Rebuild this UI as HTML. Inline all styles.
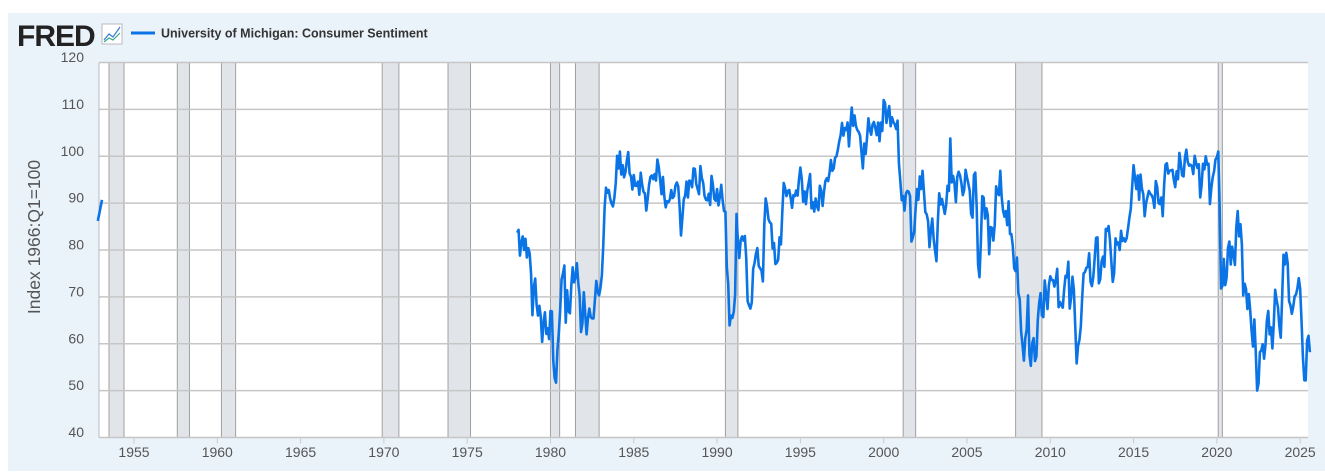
<!DOCTYPE html>
<html><head><meta charset="utf-8"><style>
body{margin:0;background:#fff;width:1325px;height:471px;overflow:hidden;font-family:"Liberation Sans",sans-serif}
</style></head><body>
<svg width="1325" height="471">
<rect x="8" y="13" width="1317" height="458" fill="#eaf2fa"/>
<text x="17" y="46" font-size="30" font-weight="bold" fill="#222" letter-spacing="-1">FRED</text>
<g><rect x="102" y="24" width="20" height="20" fill="#fff" stroke="#bbb"/><polyline points="104,40 109,34 113,37 120,27" fill="none" stroke="#3a7bd5" stroke-width="1.2"/><polyline points="104,42 109,38 113,40 120,33" fill="none" stroke="#3aa88a" stroke-width="1.2"/></g>
<line x1="131" y1="33" x2="155" y2="33" stroke="#0a74e6" stroke-width="3"/>
<text x="161" y="37.5" font-size="12.5" font-weight="bold" fill="#333">University of Michigan: Consumer Sentiment</text>
<rect x="99" y="62" width="1209" height="375" fill="#fff"/>
<g id="rec"></g><g id="grid"></g><g id="xax"></g>
<text transform="translate(40,237) rotate(-90)" text-anchor="middle" font-size="17.5" fill="#555">Index 1966:Q1=100</text>
<g id="series"></g>
</svg>
<script>
const yTicks=[40,50,60,70,80,90,100,110,120];
const xTicks=[1955,1960,1965,1970,1975,1980,1985,1990,1995,2000,2005,2010,2015,2020,2025];
const recessionStarts=[1953.5,1957.6,1960.25,1969.9,1973.85,1980.0,1981.5,1990.5,2001.17,2007.92,2020.08];
const recessionEnds=[1954.4,1958.33,1961.1,1970.9,1975.2,1980.55,1982.92,1991.25,2001.92,2009.5,2020.33];
const earlyDates=[1952.83,1953.08];
const earlyValues=[86.2,90.7];
const startYear=1978;
const monthly=[
83.7,84.3,78.8,81.6,82.9,80.0,82.4,78.4,80.4,79.3,75.0,66.1,
72.1,73.9,68.4,66.0,68.1,65.8,60.4,64.5,66.7,62.1,63.3,61.0,
67.0,66.9,56.5,52.7,51.7,58.7,62.3,67.3,73.7,75.0,76.7,64.5,
71.4,66.9,66.5,72.4,76.3,73.1,74.1,77.2,73.1,70.3,62.5,64.3,
71.0,66.5,62.0,65.5,67.5,65.7,65.4,65.4,69.3,73.4,71.1,70.3,
71.9,74.6,80.8,89.1,93.3,92.2,92.8,90.9,89.9,89.3,91.1,94.2,
100.1,97.4,101.0,96.1,98.1,95.5,96.6,99.1,100.9,96.3,95.7,92.9,
96.0,93.7,93.7,94.6,91.8,96.5,94.0,92.4,92.1,88.4,90.9,93.9,
95.6,95.9,95.1,96.2,94.8,99.3,97.7,94.9,91.9,95.6,91.4,89.1,
90.4,90.2,90.8,92.8,91.1,91.5,93.7,94.4,93.6,89.3,83.1,86.8,
90.8,91.6,94.6,91.2,94.8,94.7,93.4,97.4,97.3,94.1,93.0,91.9,
97.9,95.4,94.3,91.5,90.7,90.6,92.0,89.6,95.8,93.9,90.9,90.5,
93.0,89.5,91.3,93.9,90.6,88.3,88.2,76.4,72.8,63.9,66.0,65.5,
66.8,70.4,87.7,81.8,78.3,82.1,82.9,82.0,83.0,78.3,69.1,68.2,
67.5,68.8,76.0,77.2,79.2,80.4,76.6,76.1,75.6,73.3,85.3,91.0,
89.3,86.6,85.9,85.6,80.3,81.5,77.0,77.3,77.9,82.7,81.2,88.2,
94.3,93.2,91.5,92.6,92.8,91.2,89.0,91.7,91.5,92.7,91.6,95.1,
97.6,95.1,90.3,92.5,89.8,92.7,94.4,96.2,88.9,90.2,88.2,91.0,
89.3,88.5,93.7,92.7,89.4,92.4,94.7,95.3,94.7,96.5,99.2,96.9,
97.4,99.7,100.0,101.4,103.2,104.5,107.1,104.4,106.0,105.6,107.2,102.1,
106.6,110.4,106.5,108.7,106.5,105.6,105.2,104.4,100.9,97.4,102.7,100.5,
103.9,108.1,105.7,104.6,106.8,107.3,106.0,104.5,107.2,103.2,107.2,105.4,
112.0,111.3,107.1,109.2,110.7,106.4,108.3,107.3,106.8,105.8,107.6,98.4,
94.7,90.6,91.5,88.4,92.0,92.6,92.4,91.5,81.8,82.7,83.9,88.8,
93.0,90.7,95.7,93.0,96.9,92.4,88.1,87.6,86.1,80.6,84.2,86.7,
82.4,79.9,77.6,86.0,92.1,89.7,90.9,89.3,87.7,89.6,93.7,92.6,
103.8,94.4,95.8,94.2,90.2,95.6,96.7,95.9,94.2,91.7,92.8,97.1,
95.5,94.1,92.6,87.7,86.9,96.0,96.5,89.1,76.9,74.2,81.6,91.5,
91.2,86.7,88.9,87.4,79.1,84.9,84.7,82.0,85.4,93.6,92.1,91.7,
96.9,91.3,88.4,87.1,88.3,85.3,90.4,83.4,83.4,80.9,76.1,75.5,
78.4,70.8,69.5,62.6,59.8,56.4,61.2,63.0,70.3,57.6,55.3,60.1,
61.2,56.3,57.3,65.1,68.7,70.8,66.0,65.7,73.5,70.6,67.4,72.5,
74.4,73.6,73.6,72.2,73.6,76.0,67.8,68.9,68.2,67.7,71.6,74.5,
74.2,77.5,67.5,69.8,74.3,71.5,63.7,55.8,59.5,60.8,63.7,69.9,
75.0,75.3,76.2,76.4,79.3,73.2,72.3,74.3,78.3,82.6,82.7,72.9,
73.8,77.6,78.6,76.4,84.5,84.1,85.1,82.1,77.5,73.2,75.1,82.5,
81.2,81.6,80.0,84.1,81.9,82.5,81.8,82.5,84.6,86.9,88.8,93.6,
98.1,95.4,93.0,95.9,90.7,96.1,93.1,91.9,87.2,90.0,91.3,92.6,
92.0,91.7,91.0,89.0,94.7,93.5,90.0,89.8,91.2,87.2,93.8,98.2,
98.5,96.3,96.9,97.0,97.1,95.0,93.4,96.8,95.1,100.7,98.5,95.9,
95.7,99.7,101.4,98.8,98.0,98.2,97.9,96.2,100.1,98.6,97.5,98.3,
91.2,93.8,98.4,97.2,100.0,98.2,98.4,89.8,93.2,95.5,96.8,99.3,
99.8,101.0,89.1,71.8,72.3,78.1,72.5,74.1,80.4,81.8,76.9,80.7,
79.0,76.8,84.9,88.3,82.9,85.5,81.2,70.3,72.8,71.7,67.4,70.6,
67.2,62.8,59.4,65.2,58.4,50.0,51.5,58.2,58.6,59.9,56.8,59.7,
64.9,67.0,62.0,63.5,59.0,64.4,71.5,69.4,67.8,63.8,61.3,69.7,
79.0,76.9,79.4,77.2,69.1,68.2,66.4,67.9,70.1,70.5,71.8,74.0,
71.7,64.7,57.0,52.2,52.2,60.7,61.7,58.2];
const NS="http://www.w3.org/2000/svg";
const X0=99,X1=1308,Y0=62.5,Y1=437.5,T0=1952.9,T1=2025.47;
const xs=t=>X0+(t-T0)/(T1-T0)*(X1-X0);
const ys=v=>Y1-(v-40)/80*(Y1-Y0);
function mk(tag,attrs,parent){const e=document.createElementNS(NS,tag);for(const k in attrs)e.setAttribute(k,attrs[k]);parent.appendChild(e);return e;}
const rec=document.getElementById('rec');
recessionStarts.forEach((s,i)=>{
 const r=mk('rect',{x:xs(s),y:Y0,width:xs(recessionEnds[i])-xs(s),height:Y1-Y0,fill:'#e1e5ea'},rec);
 
 
 [s,recessionEnds[i]].forEach(t=>{
  const l=mk('line',{x1:xs(t),x2:xs(t),y1:Y0,y2:Y1,stroke:'#a0a0a0','stroke-width':1},rec);
  
  
 });
});
const grid=document.getElementById('grid');
yTicks.forEach(v=>{
 const l=mk('line',{x1:X0,x2:X1,y1:ys(v),y2:ys(v),stroke:'#c6c6c6','stroke-width':1.5},grid);
 
 
 const t=mk('text',{x:84,y:ys(v)-0.5,'text-anchor':'end','font-size':14,fill:'#555'},grid);
 t.textContent=v;
 
 
});
const ax=mk('line',{x1:X0,x2:X0,y1:Y0,y2:Y1,stroke:'#bbb','stroke-width':1},grid);


const xax=document.getElementById('xax');
xTicks.forEach(y=>{
 const l=mk('line',{x1:xs(y),x2:xs(y),y1:Y1,y2:Y1+6,stroke:'#ccc','stroke-width':1},xax);
 
 
 const t=mk('text',{x:xs(y),y:457,'text-anchor':'middle','font-size':14,fill:'#555'},xax);
 t.textContent=y;
 
 
});
const ser=document.getElementById('series');
const p1=mk('polyline',{points:earlyDates.map((d,i)=>xs(d)+','+ys(earlyValues[i])).join(' '),fill:'none',stroke:'#0a74e6','stroke-width':2.6},ser);


const p2=mk('polyline',{points:monthly.map((v,i)=>xs(startYear+i/12)+','+ys(v)).join(' '),fill:'none',stroke:'#0a74e6','stroke-width':2.6,'stroke-linejoin':'round'},ser);


</script>
</body></html>
